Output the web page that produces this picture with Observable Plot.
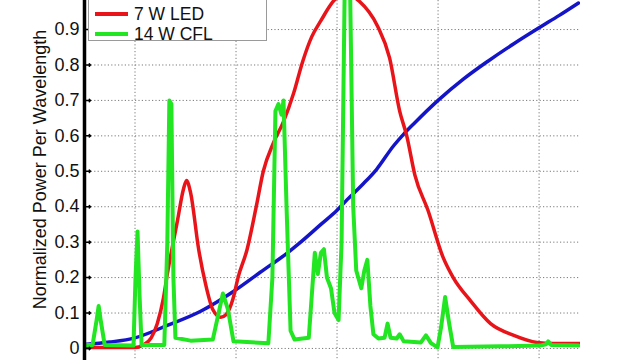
<!DOCTYPE html>
<html>
<head>
<meta charset="utf-8">
<script src="https://cdn.jsdelivr.net/npm/d3@7"></script>
<script src="https://cdn.jsdelivr.net/npm/@observablehq/plot@0.6"></script>
<style>
  html, body { margin: 0; padding: 0; background: #fff; }
  #wrap { position: relative; width: 640px; height: 360px; overflow: hidden; font-family: "Liberation Sans", Arial, sans-serif; }
  #legend { position: absolute; left: 88px; top: -17px; width: 179px; height: 58px; background: #fff; border: 1.5px solid #9a9a9a; box-sizing: border-box; }
  .row { position: absolute; left: 6px; height: 20px; display: flex; align-items: center; font-size: 17.5px; color: #111; white-space: nowrap; }
  .sw { width: 33px; height: 4px; margin-right: 6px; }
</style>
</head>
<body>
<div id="wrap">
  <div id="chart"></div>
  <div id="legend"></div>
</div>
<script>
// Series names and colours
const seriesNames = ["60 W Incandescent", "7 W LED", "14 W CFL"];
const seriesColors = ["#1414c8", "#e8141a", "#22e622"];

// 60 W Incandescent: [wavelength nm, normalized power]
const incandescent = [
  [350, 0.011], [375, 0.018], [400, 0.03], [432, 0.065], [465, 0.105], [497, 0.16],
  [524, 0.215], [551, 0.27], [564, 0.30], [584, 0.35], [600, 0.39], [610, 0.42],
  [625, 0.462], [639, 0.505], [656, 0.572], [666, 0.605], [677, 0.637], [700, 0.70],
  [725, 0.76], [749, 0.81], [775, 0.86], [800, 0.905], [820, 0.94], [839, 0.975]
];

// 7 W LED
const led = [
  [350, 0.003], [400, 0.003], [408, 0.01], [416, 0.03], [422, 0.07], [428, 0.14],
  [432, 0.21], [442, 0.36], [448, 0.45], [451, 0.474], [455, 0.44], [463, 0.28],
  [470, 0.18], [477, 0.11], [485, 0.088], [490, 0.095], [497, 0.14], [502, 0.20],
  [511, 0.28], [520, 0.40], [527, 0.50], [537, 0.58], [547, 0.64], [557, 0.72],
  [566, 0.81], [575, 0.88], [584, 0.925], [598, 0.985], [610, 1.0], [622, 0.98],
  [640, 0.91], [652, 0.82], [662, 0.67], [669, 0.60], [677, 0.49], [690, 0.39],
  [705, 0.257], [715, 0.20], [732, 0.135], [752, 0.07], [775, 0.037], [798, 0.017],
  [814, 0.014], [840, 0.014]
];

// 14 W CFL
const cfl = [
  [350, 0.01], [358, 0.01], [362, 0.08], [364, 0.12], [366, 0.08], [370, 0.01],
  [398.5, 0.008], [400.5, 0.2], [402.5, 0.33], [404.5, 0.15], [406.5, 0.01],
  [429, 0.01], [432, 0.3], [434, 0.70], [436, 0.69], [438, 0.2], [440, 0.03],
  [455, 0.022], [477, 0.025], [482, 0.09], [487, 0.155], [492, 0.11], [497.5, 0.02],
  [532, 0.015], [536, 0.2], [539, 0.67], [542, 0.69], [545, 0.66], [547, 0.70],
  [550, 0.4], [554, 0.05], [558, 0.025], [572, 0.03], [575, 0.15], [578, 0.27],
  [581, 0.21], [584, 0.27], [587, 0.28], [590, 0.2], [594, 0.17], [597.5, 0.1],
  [601.5, 0.08], [604.5, 0.3], [607.5, 1.0], [613, 1.0], [616, 0.4], [619, 0.22],
  [624, 0.17], [627, 0.22], [630, 0.25], [633, 0.12], [636, 0.04], [641, 0.028],
  [647, 0.03], [650, 0.07], [653, 0.03], [659, 0.028], [662, 0.04], [666, 0.02],
  [683, 0.017], [688, 0.037], [693, 0.015], [699.5, 0.003], [703, 0.06], [707, 0.145],
  [711, 0.07], [715, 0.004], [762, 0.006], [801, 0.008], [807, 0.012], [809, 0.02],
  [812, 0.01], [839, 0.008]
];

const xTicks = [400, 500, 600, 700, 800];
const yTicks = [0, 0.1, 0.2, 0.3, 0.4, 0.5, 0.6, 0.7, 0.8, 0.9];
const yLabel = "Normalized Power Per Wavelength";

const gridStyle = { stroke: "#7a7a7a", strokeOpacity: 1, strokeWidth: 1, strokeDasharray: "1.2,2.2" };

const chart = Plot.plot({
  width: 640,
  height: 360,
  marginTop: 0,
  marginBottom: 0,
  marginLeft: 84,
  marginRight: 60,
  style: { fontFamily: "'Liberation Sans', Arial, sans-serif", fontSize: "18px", color: "#111", background: "#fff" },
  x: { domain: [350, 841], axis: null },
  y: { domain: [-0.034, 0.982], axis: null },
  marks: [
    Plot.gridX(xTicks, gridStyle),
    Plot.gridY(yTicks, gridStyle),
    Plot.line(incandescent, { x: d => d[0], y: d => d[1], stroke: seriesColors[0], strokeWidth: 3.5, curve: "monotone-x", clip: true }),
    Plot.line(led, { x: d => d[0], y: d => d[1], stroke: seriesColors[1], strokeWidth: 3.5, curve: "monotone-x", clip: true }),
    Plot.line(cfl, { x: d => d[0], y: d => d[1], stroke: seriesColors[2], strokeWidth: 4, curve: "linear", clip: true }),
    Plot.ruleX([350], { stroke: "#000", strokeWidth: 3.5 }),
    Plot.vector(yTicks, { x: () => 350, y: d => d, length: 6, rotate: 90, anchor: "start", stroke: "#000", strokeWidth: 1.5 }),
    Plot.axisY(yTicks, { tickSize: 0, tickPadding: 5, fontSize: 18, label: null, tickFormat: d => d === 0 ? "0" : d3.format(".1f")(d) }),
    Plot.text([yLabel], { text: d => d, frameAnchor: "left", rotate: -90, dx: -44, dy: -11, fontSize: 18, textAnchor: "middle", lineAnchor: "middle", fill: "#111" })
  ]
});
document.getElementById("chart").appendChild(chart);

const legend = document.getElementById("legend");
seriesNames.forEach((name, i) => {
  const row = document.createElement("div");
  row.className = "row";
  row.style.top = (0 + i * 20) + "px";
  const sw = document.createElement("span");
  sw.className = "sw";
  sw.style.background = seriesColors[i];
  const t = document.createElement("span");
  t.textContent = name;
  row.appendChild(sw);
  row.appendChild(t);
  legend.appendChild(row);
});
</script>
</body>
</html>
